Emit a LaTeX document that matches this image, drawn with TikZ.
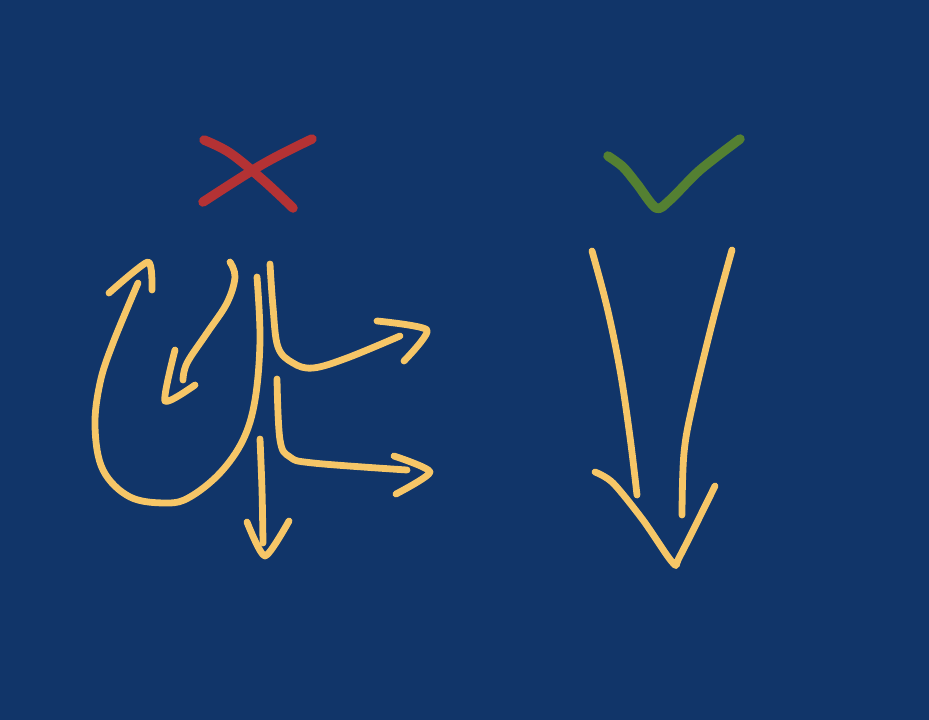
\documentclass[tikz,border=0pt]{standalone}
\begin{document}
\begin{tikzpicture}[x=1pt,y=-1pt,
  pen/.style={line cap=round,line join=round},
  ink/.style={pen,draw=arrowyellow,line width=6.8pt},
  crossink/.style={pen,draw=crossred,line width=9.5pt},
  checkink/.style={pen,draw=checkgreen,line width=9.5pt}]
\definecolor{bgblue}{RGB}{17,53,105}
\definecolor{arrowyellow}{RGB}{246,198,103}
\definecolor{crossred}{RGB}{180,50,52}
\definecolor{checkgreen}{RGB}{84,128,50}
\fill[bgblue] (0,0) rectangle (929,720);
\useasboundingbox (0,0) rectangle (929,720);
% red cross
\draw[crossink] plot[smooth,tension=0.6] coordinates {(204,140) (230,153) (263,180) (293,208)};
\draw[crossink] plot[smooth,tension=0.6] coordinates {(312,139) (263,164) (203,202)};
% green check
\draw[checkink] plot[smooth,tension=0.5] coordinates {(608,156) (623,167) (637,184) (656,208) (670,200) (700,170) (740,139)};
% U loop arrow
\draw[ink] plot[smooth,tension=0.6] coordinates {(257,277) (260,340) (255,400) (243,440) (220,473) (190,497) (167,503) (130,497) (103,470) (95,427) (100,383) (113,343) (138,283)};
\draw[ink] plot[smooth,tension=0.4] coordinates {(109,293) (148,262) (152,290)};
% diagonal arrow
\draw[ink] plot[smooth,tension=0.6] coordinates {(230,262) (235,277) (227,303) (207,333) (187,363) (183,380)};
\draw[ink] plot[smooth,tension=0.4] coordinates {(175,350) (165,401) (195,385)};
% upper right arrow
\draw[ink] plot[smooth,tension=0.6] coordinates {(270,264) (273,307) (278,347) (293,363) (313,368) (347,358) (400,336)};
\draw[ink] plot[smooth,tension=0.4] coordinates {(377,321) (427,330) (404,361)};
% lower right arrow
\draw[ink] plot[smooth,tension=0.6] coordinates {(277,379) (280,440) (290,457) (313,463) (407,470)};
\draw[ink] plot[smooth,tension=0.4] coordinates {(394,456) (430,472) (396,494)};
% down arrow
\draw[ink] plot[smooth,tension=0.6] coordinates {(260,439) (262,490) (263,543)};
\draw[ink] plot[smooth,tension=0.4] coordinates {(247,522) (265,556) (289,521)};
% big arrow
\draw[ink] plot[smooth,tension=0.6] coordinates {(592,251) (607,307) (620,370) (630,437) (637,495)};
\draw[ink] plot[smooth,tension=0.6] coordinates {(732,250) (713,320) (693,403) (684,453) (682,515)};
\draw[ink] plot[smooth,tension=0.5] coordinates {(595,472) (613,483) (643,520) (673,563) (680,556) (715,486)};
\end{tikzpicture}
\end{document}
